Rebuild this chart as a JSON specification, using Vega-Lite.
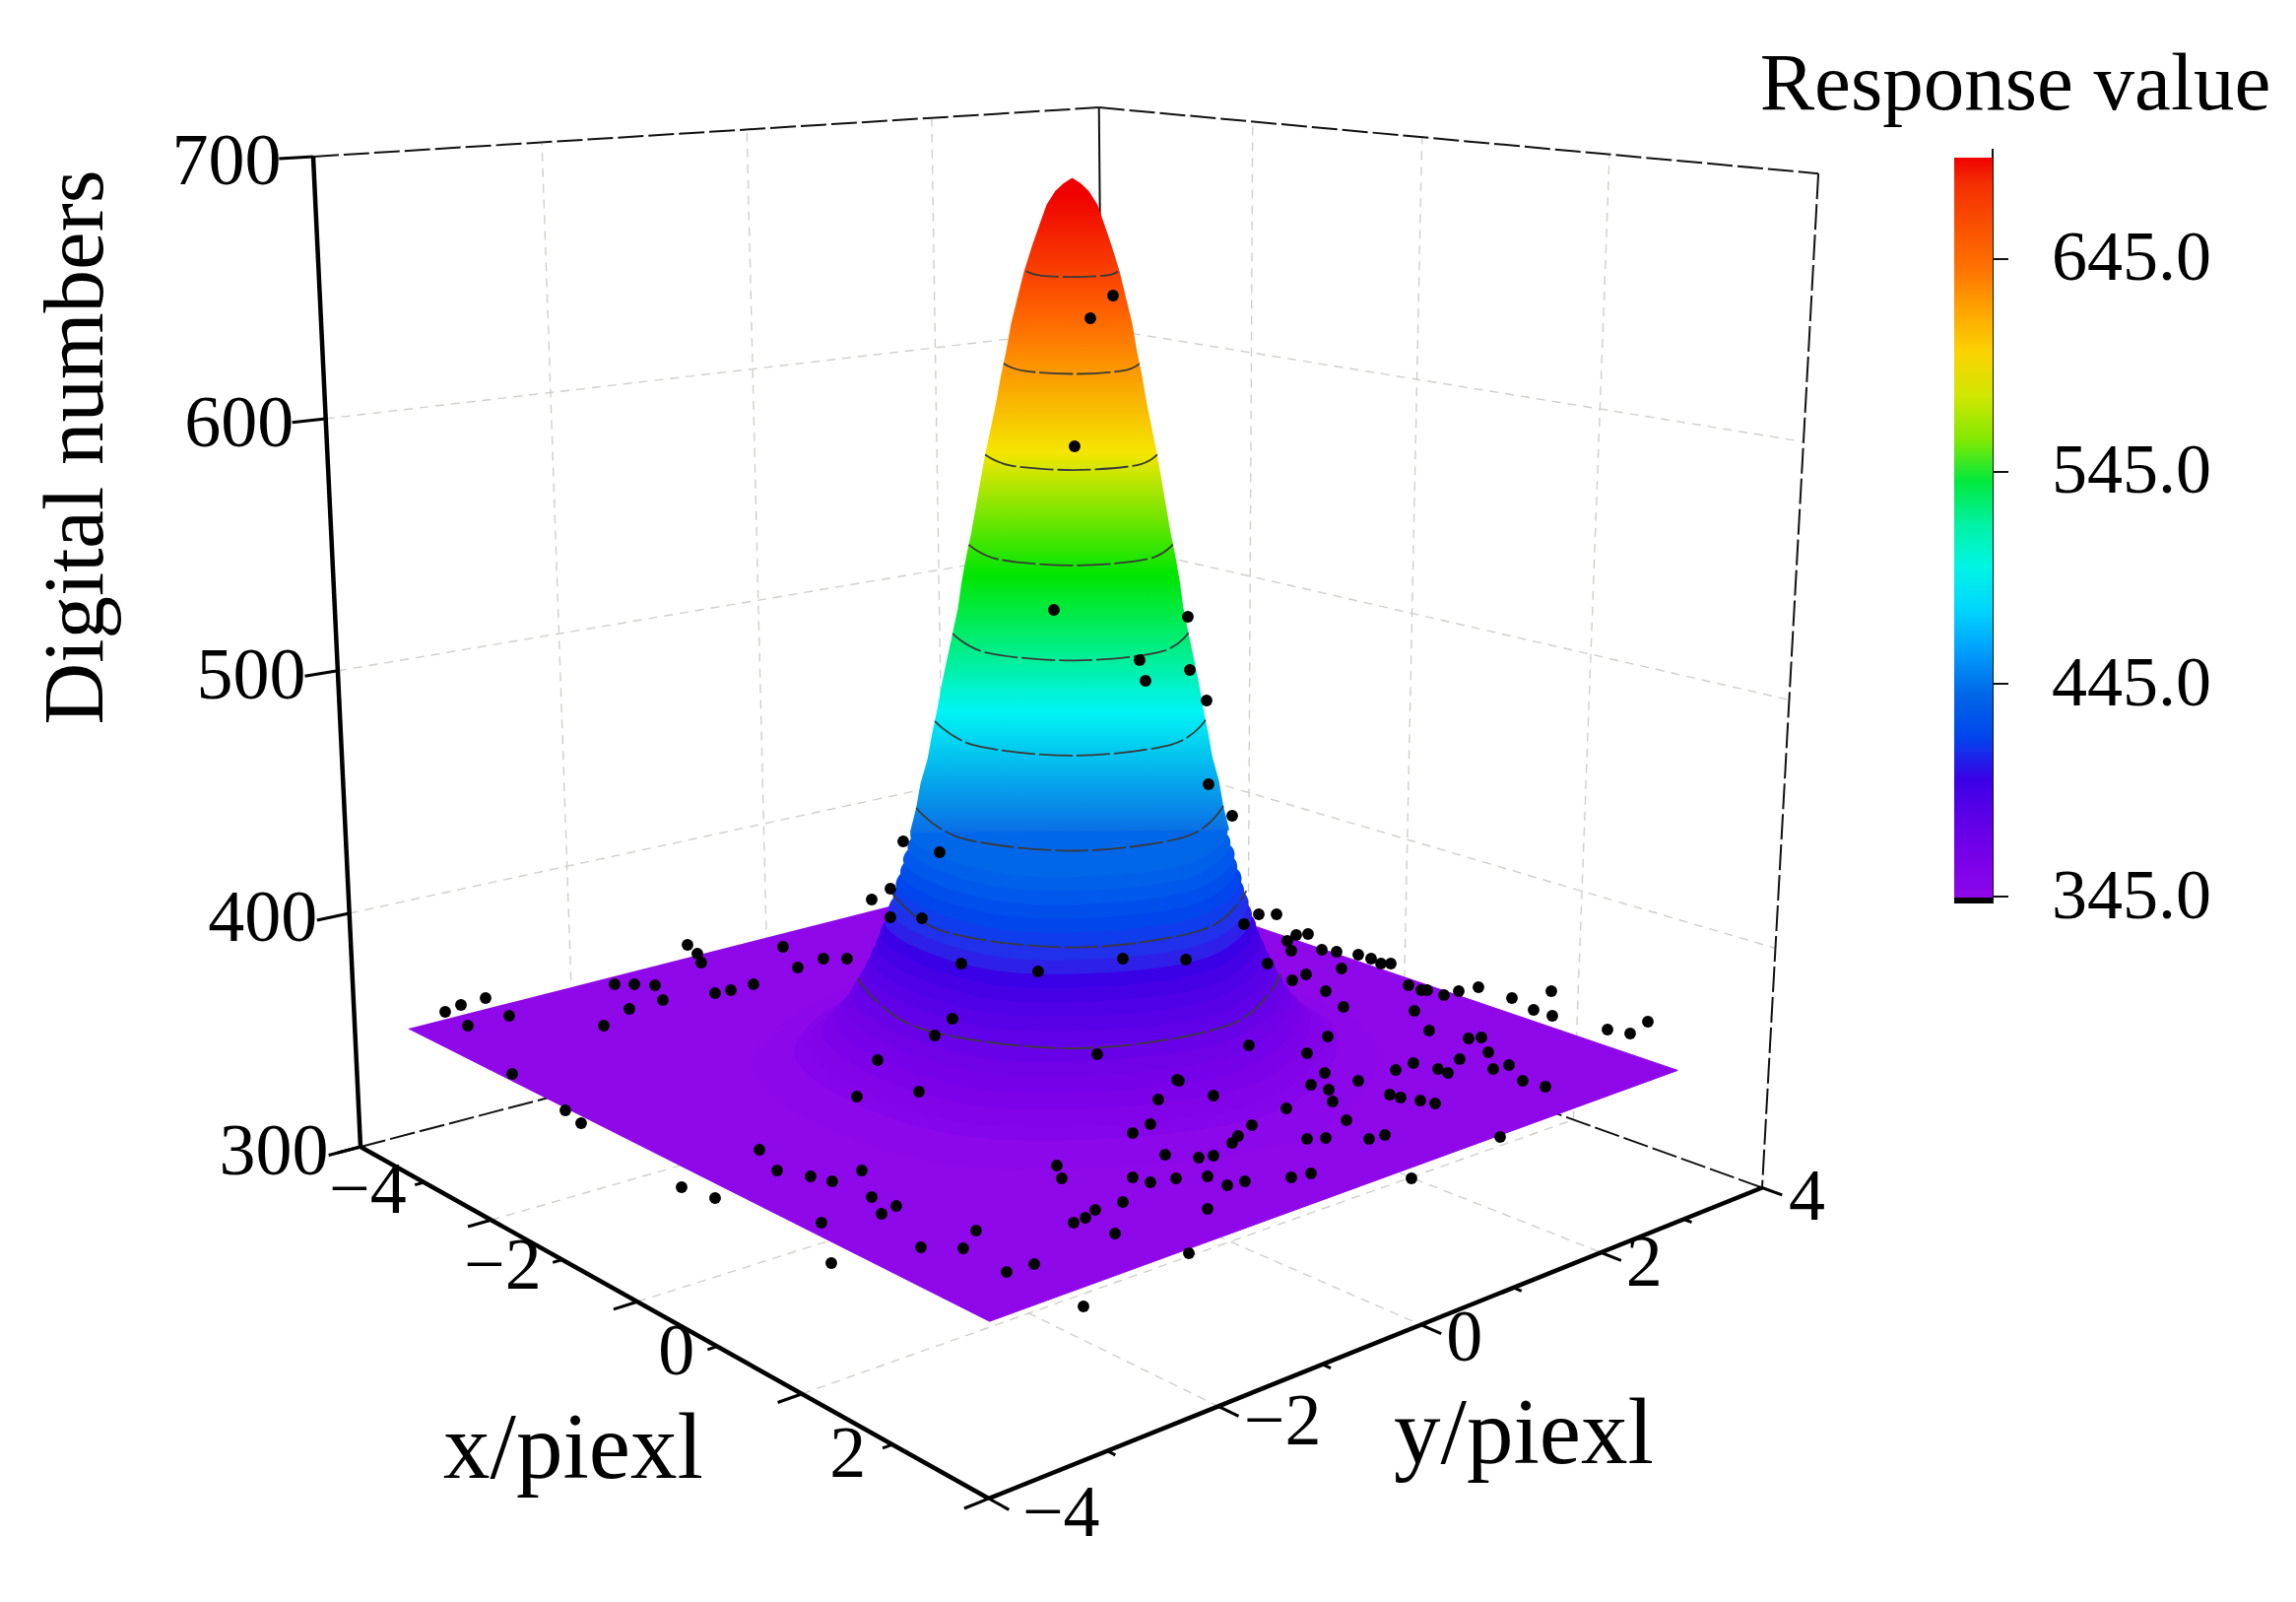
{"$schema":"https://vega.github.io/schema/vega-lite/v6.json","width":2331,"height":1626,"autosize":{"type":"none"},"padding":0,"background":"white","config":{"view":{"stroke":null}},
"data":{"values":[
{"k":"g","i":"f1","x":-2,"y":-4,"z":300},{"k":"g","i":"f1","x":-2,"y":4,"z":300},{"k":"g","i":"f2","x":0,"y":-4,"z":300},{"k":"g","i":"f2","x":0,"y":4,"z":300},{"k":"g","i":"f3","x":2,"y":-4,"z":300},{"k":"g","i":"f3","x":2,"y":4,"z":300},
{"k":"g","i":"f4","x":-4,"y":-2,"z":300},{"k":"g","i":"f4","x":4,"y":-2,"z":300},{"k":"g","i":"f5","x":-4,"y":0,"z":300},{"k":"g","i":"f5","x":4,"y":0,"z":300},{"k":"g","i":"f6","x":-4,"y":2,"z":300},{"k":"g","i":"f6","x":4,"y":2,"z":300},
{"k":"g","i":"l1","x":-4,"y":-4,"z":400},{"k":"g","i":"l1","x":-4,"y":4,"z":400},{"k":"g","i":"l2","x":-4,"y":-4,"z":500},{"k":"g","i":"l2","x":-4,"y":4,"z":500},{"k":"g","i":"l3","x":-4,"y":-4,"z":600},{"k":"g","i":"l3","x":-4,"y":4,"z":600},
{"k":"g","i":"l4","x":-4,"y":-2,"z":300},{"k":"g","i":"l4","x":-4,"y":-2,"z":700},{"k":"g","i":"l5","x":-4,"y":0,"z":300},{"k":"g","i":"l5","x":-4,"y":0,"z":700},{"k":"g","i":"l6","x":-4,"y":2,"z":300},{"k":"g","i":"l6","x":-4,"y":2,"z":700},
{"k":"g","i":"r1","x":-4,"y":4,"z":400},{"k":"g","i":"r1","x":4,"y":4,"z":400},{"k":"g","i":"r2","x":-4,"y":4,"z":500},{"k":"g","i":"r2","x":4,"y":4,"z":500},{"k":"g","i":"r3","x":-4,"y":4,"z":600},{"k":"g","i":"r3","x":4,"y":4,"z":600},
{"k":"g","i":"r4","x":-2,"y":4,"z":300},{"k":"g","i":"r4","x":-2,"y":4,"z":700},{"k":"g","i":"r5","x":0,"y":4,"z":300},{"k":"g","i":"r5","x":0,"y":4,"z":700},{"k":"g","i":"r6","x":2,"y":4,"z":300},{"k":"g","i":"r6","x":2,"y":4,"z":700},
{"k":"d","i":"d1","x":-4,"y":-4,"z":300},{"k":"d","i":"d1","x":-4,"y":4,"z":300},{"k":"d","i":"d2","x":-4,"y":4,"z":300},{"k":"d","i":"d2","x":4,"y":4,"z":300},{"k":"d","i":"d3","x":-4,"y":-4,"z":700},{"k":"d","i":"d3","x":-4,"y":4,"z":700},{"k":"d","i":"d4","x":-4,"y":4,"z":700},{"k":"d","i":"d4","x":4,"y":4,"z":700},{"k":"d","i":"d5","x":4,"y":4,"z":700},{"k":"d","i":"d5","x":4,"y":4,"z":300},
{"k":"t","i":"t1","x":-4,"y":4,"z":300},{"k":"t","i":"t1","x":-4,"y":4,"z":700},
{"k":"a","i":"a1","x":-4,"y":-4,"z":300},{"k":"a","i":"a1","x":-4,"y":-4,"z":700},{"k":"a","i":"a2","x":-4,"y":-4,"z":300},{"k":"a","i":"a2","x":4,"y":-4,"z":300},{"k":"a","i":"a3","x":4,"y":-4,"z":300},{"k":"a","i":"a3","x":4,"y":4,"z":300},
{"k":"m","i":"z3","x":-4,"y":-4,"z":300},{"k":"m","i":"z3","x":-4,"y":-4.28,"z":300},{"k":"m","i":"z4","x":-4,"y":-4,"z":400},{"k":"m","i":"z4","x":-4,"y":-4.28,"z":400},{"k":"m","i":"z5","x":-4,"y":-4,"z":500},{"k":"m","i":"z5","x":-4,"y":-4.28,"z":500},{"k":"m","i":"z6","x":-4,"y":-4,"z":600},{"k":"m","i":"z6","x":-4,"y":-4.28,"z":600},{"k":"m","i":"z7","x":-4,"y":-4,"z":700},{"k":"m","i":"z7","x":-4,"y":-4.28,"z":700},
{"k":"m","i":"x1","x":-4,"y":-4,"z":300},{"k":"m","i":"x1","x":-4,"y":-4.2,"z":300},{"k":"m","i":"x2","x":-3,"y":-4,"z":300},{"k":"m","i":"x2","x":-3,"y":-4.08,"z":300},{"k":"m","i":"x3","x":-2,"y":-4,"z":300},{"k":"m","i":"x3","x":-2,"y":-4.2,"z":300},{"k":"m","i":"x4","x":-1,"y":-4,"z":300},{"k":"m","i":"x4","x":-1,"y":-4.08,"z":300},{"k":"m","i":"x5","x":0,"y":-4,"z":300},{"k":"m","i":"x5","x":0,"y":-4.2,"z":300},{"k":"m","i":"x6","x":1,"y":-4,"z":300},{"k":"m","i":"x6","x":1,"y":-4.08,"z":300},{"k":"m","i":"x7","x":2,"y":-4,"z":300},{"k":"m","i":"x7","x":2,"y":-4.2,"z":300},{"k":"m","i":"x8","x":3,"y":-4,"z":300},{"k":"m","i":"x8","x":3,"y":-4.08,"z":300},{"k":"m","i":"x9","x":4,"y":-4,"z":300},{"k":"m","i":"x9","x":4,"y":-4.2,"z":300},
{"k":"m","i":"y1","x":4,"y":-4,"z":300},{"k":"m","i":"y1","x":4.2,"y":-4,"z":300},{"k":"m","i":"y2","x":4,"y":-3,"z":300},{"k":"m","i":"y2","x":4.08,"y":-3,"z":300},{"k":"m","i":"y3","x":4,"y":-2,"z":300},{"k":"m","i":"y3","x":4.2,"y":-2,"z":300},{"k":"m","i":"y4","x":4,"y":-1,"z":300},{"k":"m","i":"y4","x":4.08,"y":-1,"z":300},{"k":"m","i":"y5","x":4,"y":0,"z":300},{"k":"m","i":"y5","x":4.2,"y":0,"z":300},{"k":"m","i":"y6","x":4,"y":1,"z":300},{"k":"m","i":"y6","x":4.08,"y":1,"z":300},{"k":"m","i":"y7","x":4,"y":2,"z":300},{"k":"m","i":"y7","x":4.2,"y":2,"z":300},{"k":"m","i":"y8","x":4,"y":3,"z":300},{"k":"m","i":"y8","x":4.08,"y":3,"z":300},{"k":"m","i":"y9","x":4,"y":4,"z":300},{"k":"m","i":"y9","x":4.2,"y":4,"z":300},
{"k":"b","x":-4.03,"y":-3.51,"z":345},{"k":"b","x":3.44,"y":-3.54,"z":345},{"k":"b","x":3.37,"y":3.64,"z":345},{"k":"b","x":-4.25,"y":3.7,"z":345},
{"k":"s","x":2.51,"y":0.1,"z":347},{"k":"s","x":1.26,"y":2.27,"z":347},{"k":"s","x":-1.26,"y":2.27,"z":347},{"k":"s","x":-2.51,"y":0.1,"z":347},{"k":"s","x":-1.26,"y":-2.07,"z":347},{"k":"s","x":1.26,"y":-2.07,"z":347},
{"k":"s","x":2.19,"y":0.1,"z":352},{"k":"s","x":1.09,"y":1.99,"z":352},{"k":"s","x":-1.09,"y":1.99,"z":352},{"k":"s","x":-2.19,"y":0.1,"z":352},{"k":"s","x":-1.09,"y":-1.79,"z":352},{"k":"s","x":1.09,"y":-1.79,"z":352},
{"k":"s","x":2.08,"y":0.1,"z":355},{"k":"s","x":1.04,"y":1.9,"z":355},{"k":"s","x":-1.04,"y":1.9,"z":355},{"k":"s","x":-2.08,"y":0.1,"z":355},{"k":"s","x":-1.04,"y":-1.7,"z":355},{"k":"s","x":1.04,"y":-1.7,"z":355},
{"k":"s","x":1.96,"y":0.1,"z":360},{"k":"s","x":0.98,"y":1.8,"z":360},{"k":"s","x":-0.98,"y":1.8,"z":360},{"k":"s","x":-1.96,"y":0.1,"z":360},{"k":"s","x":-0.98,"y":-1.6,"z":360},{"k":"s","x":0.98,"y":-1.6,"z":360},
{"k":"s","x":1.87,"y":0.1,"z":365},{"k":"s","x":0.93,"y":1.72,"z":365},{"k":"s","x":-0.93,"y":1.72,"z":365},{"k":"s","x":-1.87,"y":0.1,"z":365},{"k":"s","x":-0.93,"y":-1.52,"z":365},{"k":"s","x":0.93,"y":-1.52,"z":365},
{"k":"s","x":1.79,"y":0.1,"z":370},{"k":"s","x":0.9,"y":1.65,"z":370},{"k":"s","x":-0.9,"y":1.65,"z":370},{"k":"s","x":-1.79,"y":0.1,"z":370},{"k":"s","x":-0.9,"y":-1.45,"z":370},{"k":"s","x":0.9,"y":-1.45,"z":370},
{"k":"s","x":1.73,"y":0.1,"z":375},{"k":"s","x":0.87,"y":1.6,"z":375},{"k":"s","x":-0.87,"y":1.6,"z":375},{"k":"s","x":-1.73,"y":0.1,"z":375},{"k":"s","x":-0.87,"y":-1.4,"z":375},{"k":"s","x":0.87,"y":-1.4,"z":375},
{"k":"s","x":1.68,"y":0.1,"z":380},{"k":"s","x":0.84,"y":1.55,"z":380},{"k":"s","x":-0.84,"y":1.55,"z":380},{"k":"s","x":-1.68,"y":0.1,"z":380},{"k":"s","x":-0.84,"y":-1.35,"z":380},{"k":"s","x":0.84,"y":-1.35,"z":380},
{"k":"s","x":1.63,"y":0.1,"z":385},{"k":"s","x":0.81,"y":1.51,"z":385},{"k":"s","x":-0.81,"y":1.51,"z":385},{"k":"s","x":-1.63,"y":0.1,"z":385},{"k":"s","x":-0.81,"y":-1.31,"z":385},{"k":"s","x":0.81,"y":-1.31,"z":385},
{"k":"s","x":1.58,"y":0.1,"z":390},{"k":"s","x":0.79,"y":1.47,"z":390},{"k":"s","x":-0.79,"y":1.47,"z":390},{"k":"s","x":-1.58,"y":0.1,"z":390},{"k":"s","x":-0.79,"y":-1.27,"z":390},{"k":"s","x":0.79,"y":-1.27,"z":390},
{"k":"s","x":1.54,"y":0.1,"z":395},{"k":"s","x":0.77,"y":1.43,"z":395},{"k":"s","x":-0.77,"y":1.43,"z":395},{"k":"s","x":-1.54,"y":0.1,"z":395},{"k":"s","x":-0.77,"y":-1.23,"z":395},{"k":"s","x":0.77,"y":-1.23,"z":395},
{"k":"s","x":1.5,"y":0.1,"z":400},{"k":"s","x":0.75,"y":1.4,"z":400},{"k":"s","x":-0.75,"y":1.4,"z":400},{"k":"s","x":-1.5,"y":0.1,"z":400},{"k":"s","x":-0.75,"y":-1.2,"z":400},{"k":"s","x":0.75,"y":-1.2,"z":400},
{"k":"s","x":1.47,"y":0.1,"z":405},{"k":"s","x":0.73,"y":1.37,"z":405},{"k":"s","x":-0.73,"y":1.37,"z":405},{"k":"s","x":-1.47,"y":0.1,"z":405},{"k":"s","x":-0.73,"y":-1.17,"z":405},{"k":"s","x":0.73,"y":-1.17,"z":405},
{"k":"s","x":1.43,"y":0.1,"z":410},{"k":"s","x":0.72,"y":1.34,"z":410},{"k":"s","x":-0.72,"y":1.34,"z":410},{"k":"s","x":-1.43,"y":0.1,"z":410},{"k":"s","x":-0.72,"y":-1.14,"z":410},{"k":"s","x":0.72,"y":-1.14,"z":410},
{"k":"s","x":1.4,"y":0.1,"z":415},{"k":"s","x":0.7,"y":1.31,"z":415},{"k":"s","x":-0.7,"y":1.31,"z":415},{"k":"s","x":-1.4,"y":0.1,"z":415},{"k":"s","x":-0.7,"y":-1.11,"z":415},{"k":"s","x":0.7,"y":-1.11,"z":415},
{"k":"s","x":1.37,"y":0.1,"z":420},{"k":"s","x":0.69,"y":1.29,"z":420},{"k":"s","x":-0.69,"y":1.29,"z":420},{"k":"s","x":-1.37,"y":0.1,"z":420},{"k":"s","x":-0.69,"y":-1.09,"z":420},{"k":"s","x":0.69,"y":-1.09,"z":420},
{"k":"s","x":1.34,"y":0.1,"z":425},{"k":"s","x":0.67,"y":1.26,"z":425},{"k":"s","x":-0.67,"y":1.26,"z":425},{"k":"s","x":-1.34,"y":0.1,"z":425},{"k":"s","x":-0.67,"y":-1.06,"z":425},{"k":"s","x":0.67,"y":-1.06,"z":425},
{"k":"s","x":1.31,"y":0.1,"z":430},{"k":"s","x":0.66,"y":1.24,"z":430},{"k":"s","x":-0.66,"y":1.24,"z":430},{"k":"s","x":-1.31,"y":0.1,"z":430},{"k":"s","x":-0.66,"y":-1.04,"z":430},{"k":"s","x":0.66,"y":-1.04,"z":430},
{"k":"s","x":1.29,"y":0.1,"z":435},{"k":"s","x":0.64,"y":1.21,"z":435},{"k":"s","x":-0.64,"y":1.21,"z":435},{"k":"s","x":-1.29,"y":0.1,"z":435},{"k":"s","x":-0.64,"y":-1.01,"z":435},{"k":"s","x":0.64,"y":-1.01,"z":435},
{"k":"s","x":1.26,"y":0.1,"z":440},{"k":"s","x":0.63,"y":1.19,"z":440},{"k":"s","x":-0.63,"y":1.19,"z":440},{"k":"s","x":-1.26,"y":0.1,"z":440},{"k":"s","x":-0.63,"y":-0.99,"z":440},{"k":"s","x":0.63,"y":-0.99,"z":440},
{"k":"p","x":0.79,"y":1.08,"z":440},{"k":"p","x":0.76,"y":1.04,"z":450},{"k":"p","x":0.74,"y":1.01,"z":460},{"k":"p","x":0.7,"y":0.97,"z":470},{"k":"p","x":0.68,"y":0.94,"z":480},{"k":"p","x":0.65,"y":0.91,"z":490},{"k":"p","x":0.63,"y":0.88,"z":500},{"k":"p","x":0.6,"y":0.85,"z":510},{"k":"p","x":0.58,"y":0.81,"z":520},{"k":"p","x":0.55,"y":0.78,"z":530},{"k":"p","x":0.53,"y":0.76,"z":540},{"k":"p","x":0.51,"y":0.73,"z":550},{"k":"p","x":0.48,"y":0.7,"z":560},{"k":"p","x":0.46,"y":0.67,"z":570},{"k":"p","x":0.44,"y":0.64,"z":580},{"k":"p","x":0.42,"y":0.61,"z":590},{"k":"p","x":0.39,"y":0.58,"z":600},{"k":"p","x":0.36,"y":0.55,"z":610},{"k":"p","x":0.34,"y":0.52,"z":620},{"k":"p","x":0.31,"y":0.49,"z":630},{"k":"p","x":0.29,"y":0.46,"z":640},{"k":"p","x":0.26,"y":0.42,"z":650},{"k":"p","x":0.23,"y":0.38,"z":660},{"k":"p","x":0.19,"y":0.33,"z":670},{"k":"p","x":0.14,"y":0.28,"z":680},{"k":"p","x":0.12,"y":0.25,"z":685},{"k":"p","x":0.08,"y":0.2,"z":690},{"k":"p","x":0.04,"y":0.15,"z":693},{"k":"p","x":0,"y":0.1,"z":695},
{"k":"p","x":-0.04,"y":0.05,"z":693},{"k":"p","x":-0.08,"y":0,"z":690},{"k":"p","x":-0.12,"y":-0.05,"z":685},{"k":"p","x":-0.14,"y":-0.08,"z":680},{"k":"p","x":-0.19,"y":-0.13,"z":670},{"k":"p","x":-0.23,"y":-0.18,"z":660},{"k":"p","x":-0.26,"y":-0.22,"z":650},{"k":"p","x":-0.29,"y":-0.26,"z":640},{"k":"p","x":-0.31,"y":-0.29,"z":630},{"k":"p","x":-0.34,"y":-0.32,"z":620},{"k":"p","x":-0.36,"y":-0.35,"z":610},{"k":"p","x":-0.39,"y":-0.38,"z":600},{"k":"p","x":-0.42,"y":-0.41,"z":590},{"k":"p","x":-0.44,"y":-0.44,"z":580},{"k":"p","x":-0.46,"y":-0.47,"z":570},{"k":"p","x":-0.48,"y":-0.5,"z":560},{"k":"p","x":-0.51,"y":-0.53,"z":550},{"k":"p","x":-0.53,"y":-0.56,"z":540},{"k":"p","x":-0.55,"y":-0.58,"z":530},{"k":"p","x":-0.58,"y":-0.61,"z":520},{"k":"p","x":-0.6,"y":-0.65,"z":510},{"k":"p","x":-0.63,"y":-0.68,"z":500},{"k":"p","x":-0.65,"y":-0.71,"z":490},{"k":"p","x":-0.68,"y":-0.74,"z":480},{"k":"p","x":-0.7,"y":-0.77,"z":470},{"k":"p","x":-0.74,"y":-0.81,"z":460},{"k":"p","x":-0.76,"y":-0.84,"z":450},{"k":"p","x":-0.79,"y":-0.88,"z":440},
{"k":"c","x":-0.22,"y":-0.17,"z":660},{"k":"c","x":0.04,"y":-0.25,"z":660},{"k":"c","x":0.27,"y":-0.12,"z":660},{"k":"c","x":0.35,"y":0.14,"z":660},{"k":"c","x":0.22,"y":0.37,"z":660},
{"k":"c","x":-0.33,"y":-0.3,"z":625},{"k":"c","x":0.05,"y":-0.42,"z":625},{"k":"c","x":0.4,"y":-0.23,"z":625},{"k":"c","x":0.52,"y":0.15,"z":625},{"k":"c","x":0.33,"y":0.5,"z":625},
{"k":"c","x":-0.42,"y":-0.41,"z":590},{"k":"c","x":0.07,"y":-0.56,"z":590},{"k":"c","x":0.51,"y":-0.32,"z":590},{"k":"c","x":0.66,"y":0.17,"z":590},{"k":"c","x":0.42,"y":0.61,"z":590},
{"k":"c","x":-0.5,"y":-0.51,"z":555},{"k":"c","x":0.08,"y":-0.69,"z":555},{"k":"c","x":0.61,"y":-0.4,"z":555},{"k":"c","x":0.79,"y":0.18,"z":555},{"k":"c","x":0.5,"y":0.71,"z":555},
{"k":"c","x":-0.58,"y":-0.61,"z":520},{"k":"c","x":0.1,"y":-0.82,"z":520},{"k":"c","x":0.71,"y":-0.48,"z":520},{"k":"c","x":0.92,"y":0.2,"z":520},{"k":"c","x":0.58,"y":0.81,"z":520},
{"k":"c","x":-0.67,"y":-0.72,"z":485},{"k":"c","x":0.11,"y":-0.95,"z":485},{"k":"c","x":0.82,"y":-0.57,"z":485},{"k":"c","x":1.05,"y":0.21,"z":485},{"k":"c","x":0.67,"y":0.92,"z":485},
{"k":"c","x":-0.76,"y":-0.84,"z":450},{"k":"c","x":0.13,"y":-1.1,"z":450},{"k":"c","x":0.94,"y":-0.66,"z":450},{"k":"c","x":1.2,"y":0.23,"z":450},{"k":"c","x":0.76,"y":1.04,"z":450},
{"k":"c","x":-0.88,"y":-0.99,"z":415},{"k":"c","x":0.15,"y":-1.29,"z":415},{"k":"c","x":1.09,"y":-0.78,"z":415},{"k":"c","x":1.39,"y":0.25,"z":415},{"k":"c","x":0.88,"y":1.19,"z":415},
{"k":"c","x":-1.06,"y":-1.21,"z":380},{"k":"c","x":0.18,"y":-1.57,"z":380},{"k":"c","x":1.31,"y":-0.96,"z":380},{"k":"c","x":1.67,"y":0.28,"z":380},{"k":"c","x":1.06,"y":1.41,"z":380},
{"k":"l","t":"−4","x":-3.12,"y":-4.42,"z":300},{"k":"l","t":"−2","x":-1.17,"y":-4.4,"z":300},{"k":"l","t":"0","x":0.9,"y":-4.27,"z":300},{"k":"l","t":"2","x":2.93,"y":-4.31,"z":300},
{"k":"l","t":"−4","x":4.46,"y":-3.79,"z":300},{"k":"l","t":"−2","x":4.46,"y":-1.84,"z":300},{"k":"l","t":"0","x":4.37,"y":0.06,"z":300},{"k":"l","t":"2","x":4.36,"y":2.08,"z":300},{"k":"l","t":"4","x":4.37,"y":4.1,"z":300},
{"k":"zl","t":"300","x":-4,"y":-4,"z":300},{"k":"zl","t":"400","x":-4,"y":-4,"z":400},{"k":"zl","t":"500","x":-4,"y":-4,"z":500},{"k":"zl","t":"600","x":-4,"y":-4,"z":600},{"k":"zl","t":"700","x":-4,"y":-4,"z":700}
]},
"transform":[
{"window":[{"op":"row_number","as":"n"}]},
{"calculate":"(datum.x+4)/8","as":"u"},{"calculate":"(datum.y+4)/8","as":"v"},{"calculate":"(datum.z-300)/400","as":"w"},
{"calculate":"1-0.2126*datum.u+0.2093*datum.v-0.0741*datum.w","as":"D"},
{"calculate":"(366+424.5*datum.u+992.6*datum.v-71.6*datum.w)/datum.D-18*datum.w*datum.v+9*datum.w*datum.u*datum.v","as":"sx"},
{"calculate":"(1164+33.6*datum.u+3.9*datum.v-1016.8*datum.w)/datum.D-24*datum.w*datum.v","as":"sy"}
],
"encoding":{"x":{"field":"sx","type":"quantitative","axis":null,"scale":{"domain":[0,2331],"nice":false,"zero":false}},"y":{"field":"sy","type":"quantitative","axis":null,"scale":{"domain":[1626,0],"nice":false,"zero":false}}},
"layer":[
{"transform":[{"filter":"datum.k=='g'"}],"mark":{"type":"line","stroke":"#cfcfca","strokeWidth":1.4,"strokeDash":[9,7]},"encoding":{"detail":{"field":"i"},"order":{"field":"n","type":"quantitative"}}},
{"transform":[{"filter":"datum.k=='d'"}],"mark":{"type":"line","stroke":"#111111","strokeWidth":2,"strokeDash":[26,5]},"encoding":{"detail":{"field":"i"},"order":{"field":"n","type":"quantitative"}}},
{"transform":[{"filter":"datum.k=='t'"}],"mark":{"type":"line","stroke":"#111111","strokeWidth":2},"encoding":{"detail":{"field":"i"},"order":{"field":"n","type":"quantitative"}}},
{"transform":[{"filter":"datum.k=='b'"}],"mark":{"type":"line","fill":"#8f08ea","stroke":"#8f08ea","strokeWidth":1},"encoding":{"order":{"field":"n","type":"quantitative"}}},
{"transform":[{"filter":"datum.k=='s'"}],"mark":{"type":"line","interpolate":"cardinal-closed","filled":true,"strokeWidth":0},"encoding":{"detail":{"field":"z"},"order":{"field":"n","type":"quantitative"},"color":{"field":"z","type":"quantitative","scale":{"type":"linear","domain":[344.5,400,445,492,545,592,645,692],"range":["#8f08ea","#3a00e6","#0a6ee6","#00f5f5","#00e600","#f5e600","#ff6400","#f00000"]},"legend":{"orient":"none","legendX":1984,"legendY":160,"gradientLength":751,"gradientThickness":39,"title":null,"values":[345,445,545,645],"format":".1f","labelFont":"Liberation Serif","labelFontSize":72,"labelOffset":60,"labelColor":"black","gradientStrokeWidth":0,"labelOverlap":false}}}},
{"transform":[{"filter":"datum.k=='p'"}],"mark":{"type":"line","strokeWidth":0,"fill":{"gradient":"linear","x1":0,"y1":1,"x2":0,"y2":0,"stops":[{"offset":0,"color":"#0a6ee6"},{"offset":0.185,"color":"#00f5f5"},{"offset":0.394,"color":"#00e600"},{"offset":0.58,"color":"#f5e600"},{"offset":0.79,"color":"#ff6400"},{"offset":0.976,"color":"#f00000"},{"offset":1,"color":"#f00000"}]}},"encoding":{"order":{"field":"n","type":"quantitative"}}},
{"transform":[{"filter":"datum.k=='c'"}],"mark":{"type":"line","interpolate":"cardinal","stroke":"#3a3a3a","strokeWidth":1.8,"strokeDash":[34,4]},"encoding":{"detail":{"field":"z"},"order":{"field":"n","type":"quantitative"}}},
{"transform":[{"filter":"datum.k=='a'"}],"mark":{"type":"line","stroke":"black","strokeWidth":4.5},"encoding":{"detail":{"field":"i"},"order":{"field":"n","type":"quantitative"}}},
{"transform":[{"filter":"datum.k=='m'"}],"mark":{"type":"line","stroke":"black","strokeWidth":3},"encoding":{"detail":{"field":"i"},"order":{"field":"n","type":"quantitative"}}},
{"transform":[{"filter":"datum.k=='l'"}],"mark":{"type":"text","font":"Liberation Serif","fontSize":74,"align":"center","baseline":"middle","color":"black"},"encoding":{"text":{"field":"t"}}},
{"transform":[{"filter":"datum.k=='zl'"}],"mark":{"type":"text","font":"Liberation Serif","fontSize":74,"align":"center","baseline":"middle","color":"black","dx":-88,"dy":6},"encoding":{"text":{"field":"t"}}},
{"data":{"values":[
{"sx":954,"sy":865},{"sx":917,"sy":854},{"sx":885,"sy":913},{"sx":904,"sy":902},{"sx":904,"sy":931},{"sx":936,"sy":932},{"sx":698,"sy":959},{"sx":708,"sy":968},{"sx":712,"sy":977},{"sx":795,"sy":961},{"sx":810,"sy":982},{"sx":836,"sy":973},{"sx":860,"sy":973},{"sx":624,"sy":999},{"sx":644,"sy":999},{"sx":665,"sy":1000},{"sx":673,"sy":1015},{"sx":726,"sy":1008},{"sx":742,"sy":1005},{"sx":765,"sy":999},{"sx":639,"sy":1024},{"sx":613,"sy":1041},{"sx":452,"sy":1027},{"sx":468,"sy":1020},{"sx":493,"sy":1013},{"sx":517,"sy":1031},{"sx":475,"sy":1041},{"sx":520,"sy":1090},{"sx":574,"sy":1127},{"sx":590,"sy":1140},{"sx":692,"sy":1205},{"sx":726,"sy":1216},{"sx":771,"sy":1167},{"sx":789,"sy":1188},{"sx":823,"sy":1194},{"sx":845,"sy":1199},{"sx":875,"sy":1188},{"sx":885,"sy":1215},{"sx":910,"sy":1224},{"sx":895,"sy":1232},{"sx":834,"sy":1241},{"sx":935,"sy":1266},{"sx":978,"sy":1267},{"sx":991,"sy":1249},{"sx":1022,"sy":1291},{"sx":1050,"sy":1283},{"sx":844,"sy":1282},{"sx":1100,"sy":1326},{"sx":1073,"sy":1183},{"sx":1078,"sy":1196},{"sx":1150,"sy":1195},{"sx":1168,"sy":1200},{"sx":1194,"sy":1196},{"sx":1183,"sy":1172},{"sx":1150,"sy":1150},{"sx":1168,"sy":1141},{"sx":1176,"sy":1116},{"sx":1195,"sy":1096},{"sx":1140,"sy":1220},{"sx":1112,"sy":1228},{"sx":1102,"sy":1236},{"sx":1090,"sy":1241},{"sx":1132,"sy":1252},{"sx":933,"sy":1108},{"sx":870,"sy":1113},{"sx":891,"sy":1076},{"sx":967,"sy":1034},{"sx":949,"sy":1051},{"sx":976,"sy":978},{"sx":1054,"sy":986},{"sx":1140,"sy":973},{"sx":1114,"sy":1070},
{"sx":1204,"sy":974},{"sx":1278,"sy":928},{"sx":1296,"sy":928},{"sx":1263,"sy":938},{"sx":1316,"sy":949},{"sx":1328,"sy":948},{"sx":1307,"sy":955},{"sx":1311,"sy":965},{"sx":1342,"sy":964},{"sx":1357,"sy":966},{"sx":1379,"sy":969},{"sx":1392,"sy":973},{"sx":1402,"sy":978},{"sx":1412,"sy":978},{"sx":1287,"sy":978},{"sx":1362,"sy":983},{"sx":1312,"sy":995},{"sx":1326,"sy":989},{"sx":1346,"sy":1006},{"sx":1364,"sy":1022},{"sx":1430,"sy":1000},{"sx":1443,"sy":1005},{"sx":1449,"sy":1005},{"sx":1466,"sy":1010},{"sx":1481,"sy":1006},{"sx":1501,"sy":1002},{"sx":1535,"sy":1013},{"sx":1575,"sy":1006},{"sx":1557,"sy":1025},{"sx":1576,"sy":1031},{"sx":1632,"sy":1045},{"sx":1655,"sy":1049},{"sx":1673,"sy":1037},{"sx":1436,"sy":1026},{"sx":1451,"sy":1046},{"sx":1491,"sy":1054},{"sx":1504,"sy":1053},{"sx":1348,"sy":1052},{"sx":1511,"sy":1068},{"sx":1268,"sy":1061},{"sx":1327,"sy":1069},{"sx":1435,"sy":1079},{"sx":1482,"sy":1075},{"sx":1532,"sy":1081},{"sx":1516,"sy":1085},{"sx":1460,"sy":1085},{"sx":1470,"sy":1089},{"sx":1417,"sy":1086},{"sx":1345,"sy":1089},{"sx":1379,"sy":1097},{"sx":1546,"sy":1097},{"sx":1569,"sy":1103},{"sx":1197,"sy":1097},{"sx":1331,"sy":1101},{"sx":1349,"sy":1106},{"sx":1411,"sy":1111},{"sx":1422,"sy":1114},{"sx":1442,"sy":1117},{"sx":1457,"sy":1120},{"sx":1353,"sy":1118},{"sx":1232,"sy":1112},{"sx":1306,"sy":1125},{"sx":1367,"sy":1137},{"sx":1271,"sy":1142},{"sx":1257,"sy":1153},{"sx":1251,"sy":1160},{"sx":1327,"sy":1156},{"sx":1346,"sy":1155},{"sx":1390,"sy":1156},{"sx":1406,"sy":1152},{"sx":1523,"sy":1154},{"sx":1217,"sy":1175},{"sx":1232,"sy":1173},{"sx":1226,"sy":1194},{"sx":1246,"sy":1203},{"sx":1264,"sy":1199},{"sx":1311,"sy":1195},{"sx":1331,"sy":1191},{"sx":1433,"sy":1196},{"sx":1226,"sy":1227},{"sx":1207,"sy":1272},
{"sx":1130,"sy":300},{"sx":1107,"sy":323},{"sx":1091,"sy":453},{"sx":1070,"sy":619},{"sx":1157,"sy":670},{"sx":1163,"sy":691},{"sx":1208,"sy":680},{"sx":1225,"sy":711},{"sx":1206,"sy":626},{"sx":1227,"sy":796},{"sx":1251,"sy":828}
]},"transform":[],"mark":{"type":"circle","color":"black","size":140,"opacity":1}},
{"data":{"values":[{"i":"a","sx":2023,"sy":151},{"i":"a","sx":2023,"sy":917},{"i":"t1","sx":2023,"sy":263},{"i":"t1","sx":2039,"sy":263},{"i":"t2","sx":2023,"sy":479},{"i":"t2","sx":2039,"sy":479},{"i":"t3","sx":2023,"sy":694},{"i":"t3","sx":2039,"sy":694},{"i":"t4","sx":2023,"sy":910},{"i":"t4","sx":2039,"sy":910}]},"transform":[],"mark":{"type":"line","stroke":"#111111","strokeWidth":2},"encoding":{"detail":{"field":"i"}}},
{"data":{"values":[{"sx":1984,"sy":914},{"sx":2023,"sy":914}]},"transform":[],"mark":{"type":"line","stroke":"black","strokeWidth":6}},
{"data":{"values":[{"t":"x/piexl","sx":582,"sy":1500},{"t":"y/piexl","sx":1547,"sy":1485}]},"transform":[],"mark":{"type":"text","font":"Liberation Serif","fontSize":95,"align":"center","baseline":"alphabetic","color":"black"},"encoding":{"text":{"field":"t"}}},
{"data":{"values":[{"t":"Response value","sx":2046,"sy":111}]},"transform":[],"mark":{"type":"text","font":"Liberation Serif","fontSize":83,"align":"center","baseline":"alphabetic","color":"black"},"encoding":{"text":{"field":"t"}}},
{"data":{"values":[{"t":"Digital numbers","sx":78,"sy":454}]},"transform":[],"mark":{"type":"text","font":"Liberation Serif","fontSize":87,"align":"center","baseline":"middle","angle":270,"color":"black"},"encoding":{"text":{"field":"t"}}}
]}
